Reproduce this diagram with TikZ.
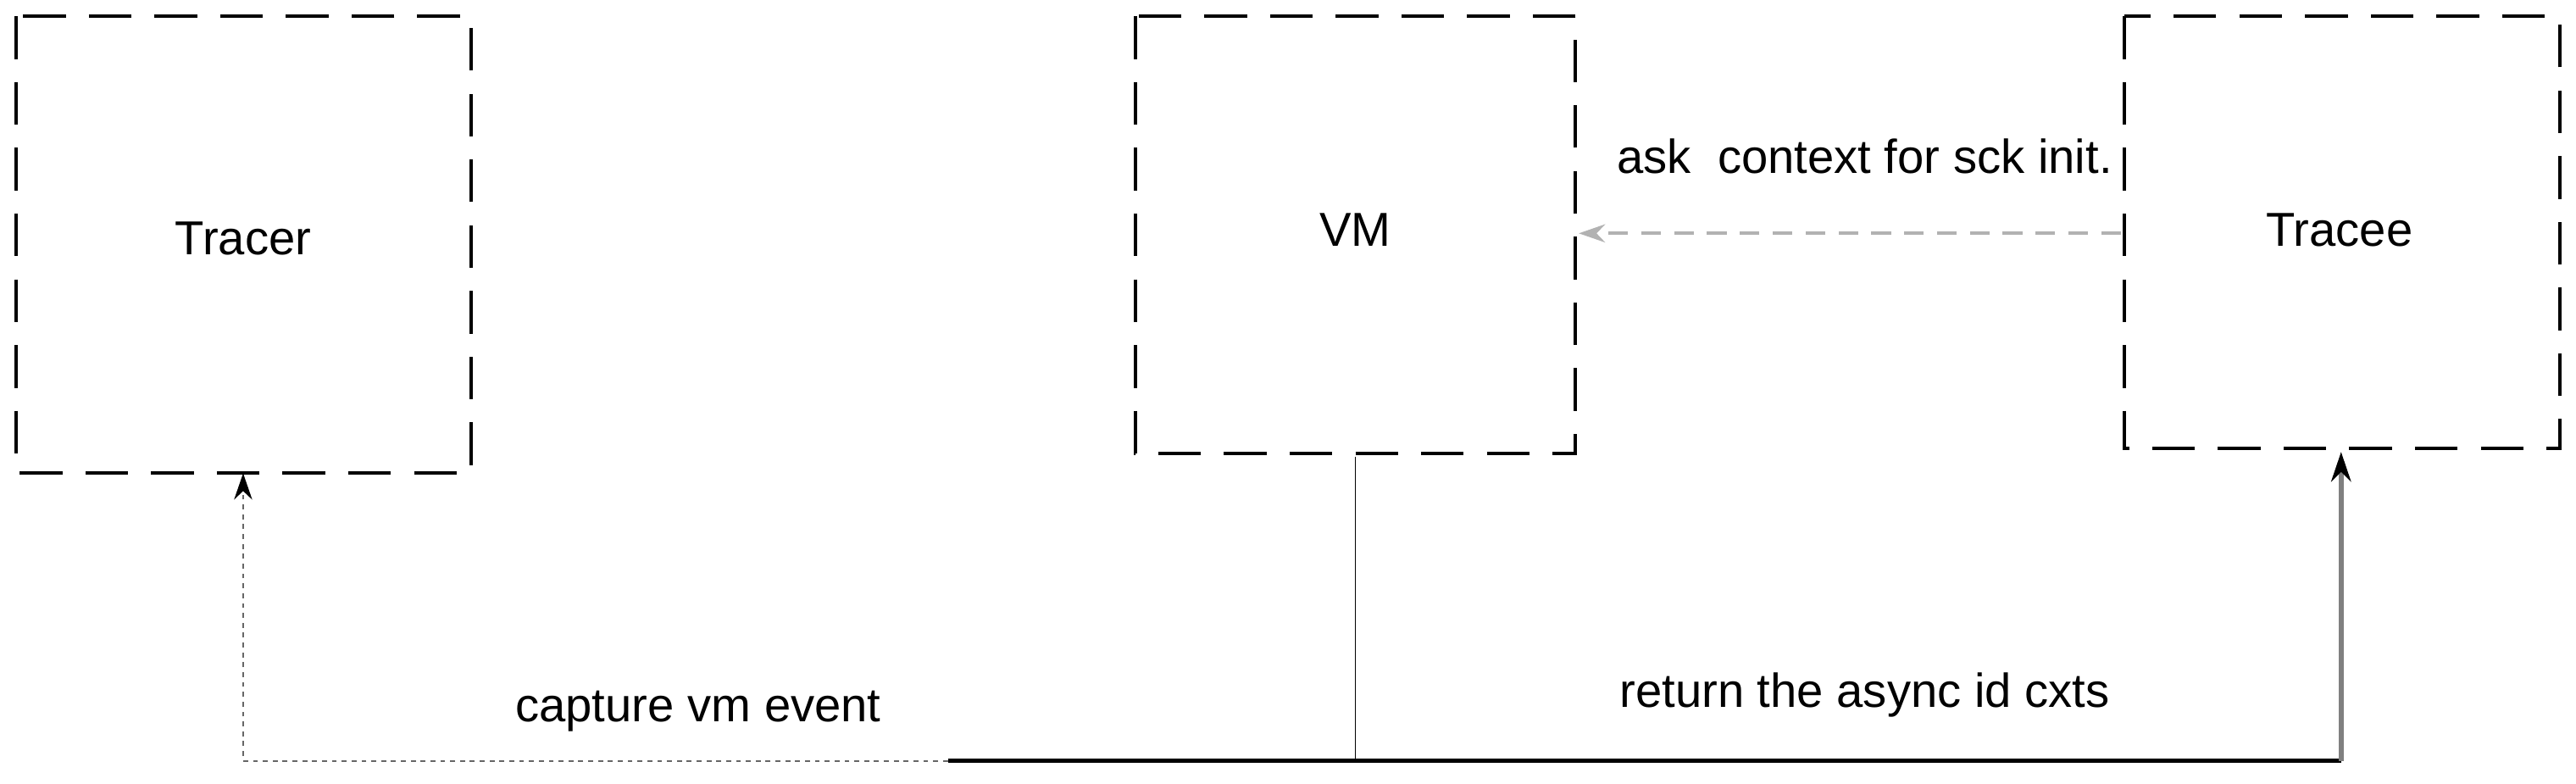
\documentclass[tikz,border=0pt]{standalone}
\usepackage{fontspec}
\setmainfont{Liberation Sans}
\usetikzlibrary{arrows.meta}
\begin{document}
\begin{tikzpicture}[x=1pt,y=-1pt,
  box/.style={draw,line width=2pt,dash pattern=on 26pt off 14pt},
  lbl/.style={font=\fontsize{29}{34}\selectfont},
  tip/.style={-{Stealth[length=16pt,width=11pt]}}]
\useasboundingbox (0,0) rectangle (1568,477);
\draw[box] (10,10) rectangle (287,288);
\draw[box] (691,10) rectangle (959,276);
\draw[box] (1293,10) rectangle (1558,273);
\node[lbl] (tracer) at (148,145) {Tracer};
\node[lbl] (vm) at (825,140) {VM};
\node[lbl] (tracee) at (1424,140) {Tracee};
\coordinate (trb) at (148,288);
\coordinate (vmb) at (825,278);
\coordinate (teb) at (1425,275);
\coordinate (vml) at (961,142);
\coordinate (ter) at (1291,142);
\coordinate (j) at (825,463);
\coordinate (m) at (577,463);
\coordinate (c1) at (148,463);
\coordinate (c2) at (1425,463);
\draw[line width=2pt,draw=black!30,dash pattern=on 12pt off 8pt,tip] (ter) -- (vml);
\draw[line width=1pt] (vmb) -- (j);
\draw[line width=2.5pt] (m) -- (c2);
\draw[line width=1pt,draw=black!60,dash pattern=on 3pt off 3pt,-{Stealth[length=16pt,width=11pt,black]}] (m) -- (c1) -- (trb);
\draw[line width=3pt,draw=black!50,-{Stealth[length=18pt,width=12pt,black]}] (c2) -- (teb);
\node[lbl] (ask) at (1135,95) {ask\ \ context for sck init.};
\node[lbl] (cap) at (425,433) {capture vm event};
\node[lbl] (ret) at (1135,423) {return the async id cxts};
\end{tikzpicture}
\end{document}
